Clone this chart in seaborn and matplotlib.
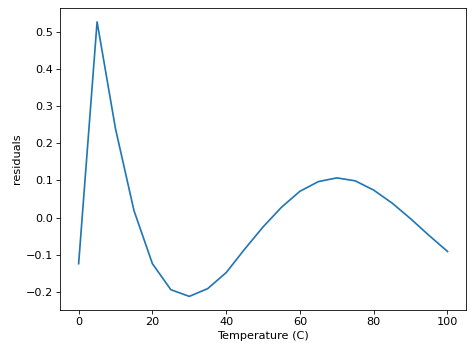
import numpy as np
import pandas as pd
import seaborn as sns
import matplotlib
matplotlib.use("Agg")
import matplotlib.pyplot as plt

temperature = [0, 5, 10, 15, 20, 25, 30, 35, 40, 45, 50,
               55, 60, 65, 70, 75, 80, 85, 90, 95, 100]
residuals = [-0.124, 0.527, 0.239, 0.019, -0.124, -0.194, -0.212, -0.191, -0.148, -0.085, -0.025,
             0.028, 0.071, 0.097, 0.107, 0.099, 0.074, 0.039, -0.003, -0.048, -0.091]

df = pd.DataFrame({"temperature": temperature, "residuals": residuals})

plt.rcParams["font.size"] = 11
fig, ax = plt.subplots(figsize=(474 / 74, 354 / 74), dpi=74)
sns.lineplot(data=df, x="temperature", y="residuals", ax=ax, color="#1f77b4", linewidth=1.65)
ax.set_xlabel("Temperature (C)")
ax.set_ylabel("residuals")
fig.subplots_adjust(left=0.127, right=0.983, top=0.977, bottom=0.124)

fig.savefig("out.png", dpi=74)
